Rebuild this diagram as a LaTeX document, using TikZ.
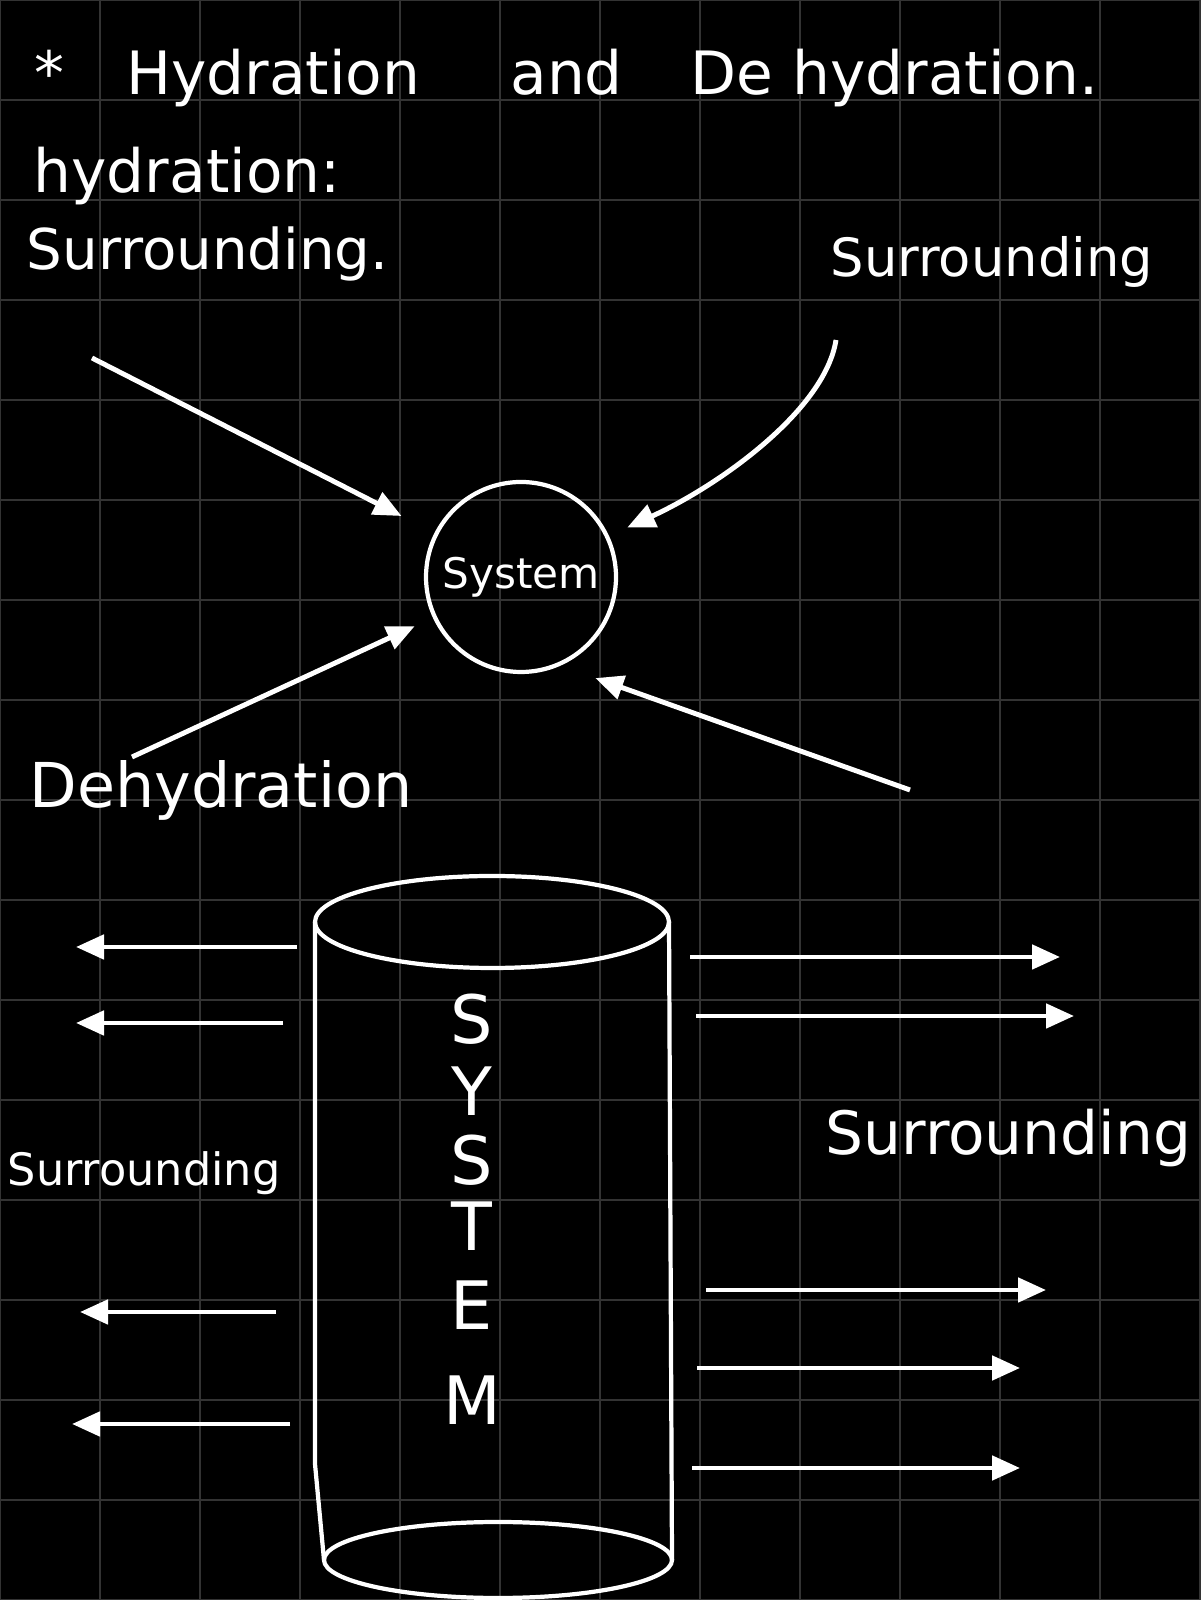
\documentclass[tikz,border=0pt]{standalone}
\usepackage{fontspec}
\setmainfont{DejaVu Sans}
\usetikzlibrary{arrows.meta}

\begin{document}
\begin{tikzpicture}[
    hand/.style={text=white, anchor=base west, inner sep=0pt},
    vletter/.style={text=white, inner sep=0pt, font=\fontsize{19}{22}\selectfont},
    arrow/.style={draw=white, line width=1.4pt, -{Triangle[length=0.28cm, width=0.24cm]}},
    shapeline/.style={draw=white, line width=1.2pt},
    gridline/.style={draw=black!80, line width=0.6pt}
  ]
  \fill[black] (0,0) rectangle (12,16);
  \useasboundingbox (0,0) rectangle (12,16);
  \draw[gridline, step=1] (0,0) grid (12,16);

  % headings
  \node[hand, font=\fontsize{17}{20}\selectfont] (title) at (0.34,15.05)
    {*\hspace{0.62cm}Hydration\hspace{0.9cm}and\hspace{0.68cm}De hydration.};
  \node[hand, font=\fontsize{17}{20}\selectfont] (hydlbl) at (0.33,14.07) {hydration:};
  \node[hand, font=\fontsize{16}{19}\selectfont] (surrtl) at (0.26,13.30) {Surrounding.};
  \node[hand, font=\fontsize{15}{18}\selectfont] (surrtr) at (8.30,13.23) {Surrounding};

  % hydration: system in the middle
  \node[circle, shapeline, minimum size=1.9cm, inner sep=0pt, text=white,
        font=\fontsize{12}{14}\selectfont] (sys) at (5.21,10.23) {System};

  \coordinate (a1) at (0.92,12.42);
  \coordinate (a2) at (8.36,12.60);
  \coordinate (a3) at (1.32,8.43);
  \coordinate (a4) at (9.10,8.10);

  \draw[arrow, shorten >=0.37cm] (a1) -- (sys);
  \draw[arrow, shorten >=0.2cm] (a2) .. controls (8.25,11.9) and (7.2,11.15) .. (sys.25);
  \draw[arrow, shorten >=0.2cm] (a3) -- (sys);
  \draw[arrow, shorten >=0.37cm] (a4) -- (sys.-66);

  \node[hand, font=\fontsize{17.6}{21}\selectfont] (dehyd) at (0.29,7.92) {Dehydration};

  % dehydration: cylinder
  \draw[shapeline] (4.92,6.78) ellipse [x radius=1.77, y radius=0.46];
  \draw[shapeline] (4.98,0.40) ellipse [x radius=1.74, y radius=0.38];
  \draw[shapeline] (3.15,6.78) -- (3.15,1.36) -- (3.24,0.40);
  \draw[shapeline] (6.69,6.78) -- (6.72,0.40);

  \node[vletter] (ls1) at (4.72,5.81) {S};
  \node[vletter] (ly) at (4.72,5.09) {Y};
  \node[vletter] (ls2) at (4.72,4.40) {S};
  \node[vletter] (lt) at (4.72,3.74) {T};
  \node[vletter] (le) at (4.72,2.95) {E};
  \node[vletter] (lm) at (4.72,2.00) {M};

  % arrows to the left
  \coordinate (l1s) at (2.97,6.53);  \coordinate (l1e) at (0.76,6.53);
  \coordinate (l2s) at (2.83,5.77);  \coordinate (l2e) at (0.76,5.77);
  \coordinate (l3s) at (2.76,2.88);  \coordinate (l3e) at (0.80,2.88);
  \coordinate (l4s) at (2.90,1.76);  \coordinate (l4e) at (0.72,1.76);
  \draw[arrow] (l1s) -- (l1e);
  \draw[arrow] (l2s) -- (l2e);
  \draw[arrow] (l3s) -- (l3e);
  \draw[arrow] (l4s) -- (l4e);

  % arrows to the right
  \coordinate (r1s) at (6.90,6.43);  \coordinate (r1e) at (10.60,6.43);
  \coordinate (r2s) at (6.96,5.84);  \coordinate (r2e) at (10.74,5.84);
  \coordinate (r3s) at (7.06,3.10);  \coordinate (r3e) at (10.46,3.10);
  \coordinate (r4s) at (6.97,2.32);  \coordinate (r4e) at (10.20,2.32);
  \coordinate (r5s) at (6.92,1.32);  \coordinate (r5e) at (10.20,1.32);
  \draw[arrow] (r1s) -- (r1e);
  \draw[arrow] (r2s) -- (r2e);
  \draw[arrow] (r3s) -- (r3e);
  \draw[arrow] (r4s) -- (r4e);
  \draw[arrow] (r5s) -- (r5e);

  \node[hand, font=\fontsize{12.7}{15}\selectfont] (surrl) at (0.07,4.14) {Surrounding};
  \node[hand, font=\fontsize{17}{20}\selectfont] (surrr) at (8.25,4.45) {Surrounding};
\end{tikzpicture}
\end{document}
